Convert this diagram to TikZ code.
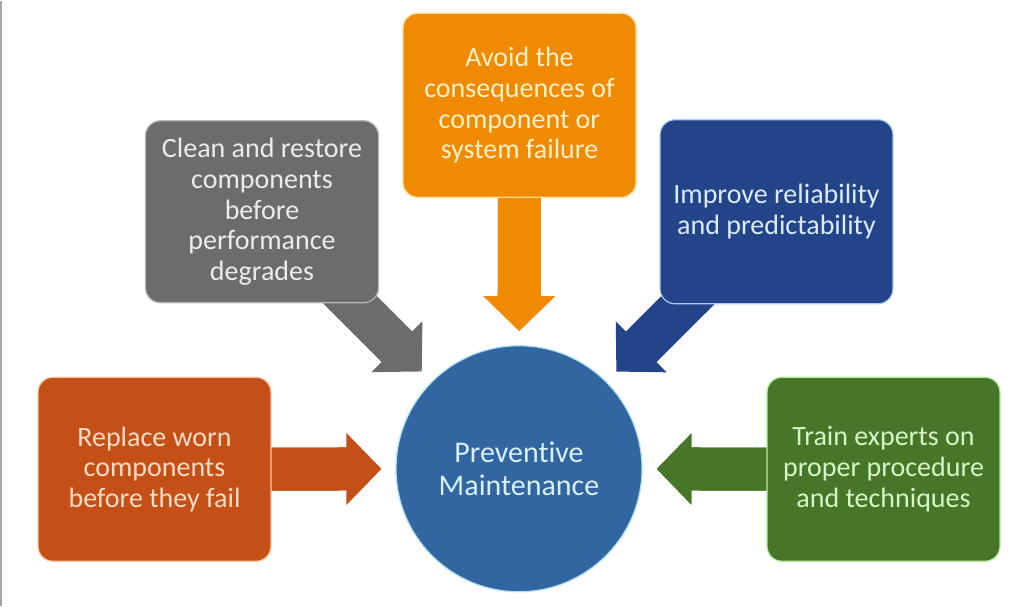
\documentclass[tikz,border=0pt]{standalone}
\usepackage{fontspec}
\setmainfont{Carlito}[Ligatures={NoCommon}]
\usetikzlibrary{arrows.meta}
\pgfdeclarelayer{back}
\pgfdeclarelayer{bg}
\pgfsetlayers{back,bg,main}
\definecolor{cOrange}{HTML}{F08A00}
\definecolor{cOrangeEdge}{HTML}{FFD98A}
\definecolor{cOrangeText}{HTML}{FFF0CC}
\definecolor{cGray}{HTML}{6C6C6C}
\definecolor{cGrayEdge}{HTML}{B8B8B8}
\definecolor{cGrayText}{HTML}{ECECEC}
\definecolor{cNavy}{HTML}{24448A}
\definecolor{cNavyEdge}{HTML}{A8CFF0}
\definecolor{cNavyText}{HTML}{DCEBFF}
\definecolor{cRust}{HTML}{C45018}
\definecolor{cRustEdge}{HTML}{FFC8A0}
\definecolor{cRustText}{HTML}{FFDCC4}
\definecolor{cGreen}{HTML}{487628}
\definecolor{cGreenEdge}{HTML}{B8F0A0}
\definecolor{cGreenText}{HTML}{D8F5C8}
\definecolor{cCircle}{HTML}{3266A0}
\definecolor{cCircleEdge}{HTML}{B0E0F5}
\definecolor{cCircleText}{HTML}{D8F0FF}
\begin{document}
\begin{tikzpicture}[x=1pt,y=-1pt,
  box/.style={rectangle, rounded corners=15pt, minimum width=233pt, minimum height=184pt,
    inner sep=0pt, align=center, font=\fontsize{28}{30.7}\selectfont, line width=1.2pt},
  hub/.style={circle, minimum size=246pt, inner sep=0pt, align=center,
    font=\fontsize{30}{33}\selectfont, fill=cCircle, draw=cCircleEdge, line width=1.2pt, text=cCircleText},
  blockarrow/.style={line width=43pt, shorten >=14pt,
    -{Triangle[length=35pt 0 0, width=72pt 0 0, line width=0pt]}},
  blockshaft/.style={line width=43pt, shorten >=42pt}]
\begin{pgfonlayer}{back}
\fill[white] (0,0) rectangle (1024,605);
\draw[black!35, line width=1.5pt] (1,0) -- (1,605);
\end{pgfonlayer}
\useasboundingbox (0,0) rectangle (1024,605);

\node[box, fill=cOrange, draw=cOrangeEdge, text=cOrangeText] (avoid) at (519.5,104.5)
  {Avoid the\\consequences of\\component or\\system failure};
\node[box, minimum height=182pt, fill=cGray, draw=cGrayEdge, text=cGrayText] (clean) at (262,211)
  {Clean and restore\\components\\before\\performance\\degrades};
\node[box, fill=cNavy, draw=cNavyEdge, text=cNavyText] (improve) at (776.5,211)
  {Improve reliability\\and predictability};
\node[box, fill=cRust, draw=cRustEdge, text=cRustText] (replace) at (154.5,468.5)
  {Replace worn\\components\\before they fail};
\node[box, fill=cGreen, draw=cGreenEdge, text=cGreenText] (train) at (883.5,468.5)
  {Train experts on\\proper procedure\\and techniques};
\node[hub] (pm) at (519,468) {Preventive\\Maintenance};

\begin{pgfonlayer}{bg}
\draw[blockarrow, cOrange] (avoid.center) -- (pm);
\draw[blockshaft, cOrange] (avoid.center) -- (pm);
\draw[blockarrow, cGray] (clean.center) -- (pm);
\draw[blockshaft, cGray] (clean.center) -- (pm);
\draw[blockarrow, cNavy] (improve.center) -- (pm);
\draw[blockshaft, cNavy] (improve.center) -- (pm);
\draw[blockarrow, cRust] (replace.center) -- (pm);
\draw[blockshaft, cRust] (replace.center) -- (pm);
\draw[blockarrow, cGreen] (train.center) -- (pm);
\draw[blockshaft, cGreen] (train.center) -- (pm);
\end{pgfonlayer}
\end{tikzpicture}
\end{document}
